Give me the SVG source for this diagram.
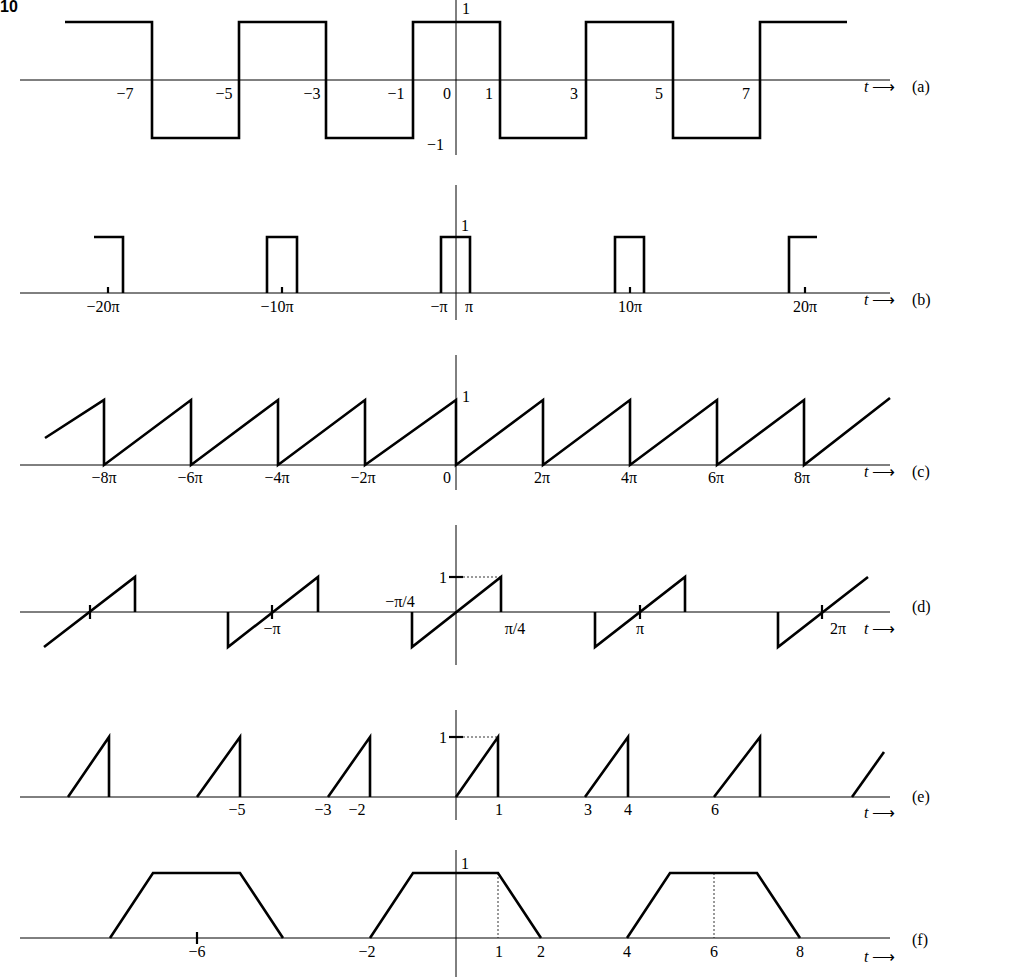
<svg xmlns="http://www.w3.org/2000/svg" width="1024" height="977" viewBox="0 0 1024 977">
<style>
.ax{stroke:#000;stroke-width:1;fill:none}
.w{stroke:#000;stroke-width:2.6;fill:none;stroke-linejoin:miter}
.d{stroke:#000;stroke-width:0.8;stroke-dasharray:2,2;fill:none}
.tk{stroke:#000;stroke-width:2.2}
text{font-family:"Liberation Serif",serif;font-size:16px;fill:#000}
.c{text-anchor:middle}
</style>
<rect width="1024" height="977" fill="#fff"/>
<text x="0" y="12" style="font-family:'Liberation Sans',sans-serif;font-weight:bold;font-size:16px">10</text>
<g id="panel-a">
<line class="ax" x1="20" y1="80" x2="890" y2="80"/><line class="ax" x1="456" y1="0" x2="456" y2="155"/>
<polyline class="w" points="65,22 152,22 152,138 239,138 239,22 326,22 326,138 413,138 413,22 500,22 500,138 586,138 586,22 673,22 673,138 760,138 760,22 847,22"/>
<text x="462" y="14">1</text><text x="427" y="150">−1</text>
<text class="c" x="125" y="99">−7</text><text class="c" x="224" y="99">−5</text><text class="c" x="312" y="99">−3</text><text class="c" x="396" y="99">−1</text><text class="c" x="447" y="99">0</text><text class="c" x="489" y="99">1</text><text class="c" x="574" y="99">3</text><text class="c" x="659" y="99">5</text><text class="c" x="746" y="99">7</text>
<text x="864" y="92" font-style="italic">t</text><text x="872" y="92">⟶</text><text x="912" y="92">(a)</text>
</g>
<g id="panel-b">
<line class="ax" x1="20" y1="293" x2="890" y2="293"/><line class="ax" x1="456" y1="185" x2="456" y2="320"/>
<polyline class="w" points="94,237 123,237 123,293"/>
<polyline class="w" points="267,293 267,237 297,237 297,293"/>
<polyline class="w" points="441,293 441,237 470,237 470,293"/>
<polyline class="w" points="615,293 615,237 644,237 644,293"/>
<polyline class="w" points="789,293 789,237 817,237"/>
<line class="tk" x1="108" y1="287" x2="108" y2="293"/><line class="tk" x1="282" y1="287" x2="282" y2="293"/><line class="tk" x1="630" y1="287" x2="630" y2="293"/><line class="tk" x1="805" y1="287" x2="805" y2="293"/>
<text x="461" y="231">1</text>
<text class="c" x="103" y="312">−20π</text><text class="c" x="277" y="312">−10π</text><text class="c" x="439" y="312">−π</text><text class="c" x="469" y="312">π</text><text class="c" x="630" y="312">10π</text><text class="c" x="805" y="312">20π</text>
<text x="864" y="305" font-style="italic">t</text><text x="872" y="305">⟶</text><text x="912" y="305">(b)</text>
</g>
<g id="panel-c">
<line class="ax" x1="20" y1="465" x2="890" y2="465"/><line class="ax" x1="456" y1="355" x2="456" y2="490"/>
<polyline class="w" points="45,438 104,400 104,465 191,400 191,465 278,400 278,465 365,400 365,465 456,400 456,465 543,400 543,465 630,400 630,465 717,400 717,465 804,400 804,465 890,398"/>
<text x="462" y="402">1</text>
<text class="c" x="104" y="483">−8π</text><text class="c" x="190" y="483">−6π</text><text class="c" x="277" y="483">−4π</text><text class="c" x="363" y="483">−2π</text><text class="c" x="447" y="483">0</text><text class="c" x="542" y="483">2π</text><text class="c" x="629" y="483">4π</text><text class="c" x="716" y="483">6π</text><text class="c" x="802" y="483">8π</text>
<text x="864" y="477" font-style="italic">t</text><text x="872" y="477">⟶</text><text x="912" y="477">(c)</text>
</g>
<g id="panel-d">
<line class="ax" x1="20" y1="612" x2="890" y2="612"/><line class="ax" x1="456" y1="525" x2="456" y2="665"/>
<polyline class="w" points="44,647 135,577 135,612"/>
<polyline class="w" points="228,612 228,647 318,577 318,612"/>
<polyline class="w" points="412,612 412,647 501,577 501,612"/>
<polyline class="w" points="595,612 595,647 685,577 685,612"/>
<polyline class="w" points="778,612 778,647 868,577"/>
<line class="tk" x1="90" y1="605" x2="90" y2="619"/><line class="tk" x1="272" y1="605" x2="272" y2="619"/><line class="tk" x1="640" y1="605" x2="640" y2="619"/><line class="tk" x1="822" y1="605" x2="822" y2="619"/>
<line class="tk" x1="449" y1="577" x2="463" y2="577"/><line class="d" x1="463" y1="577" x2="501" y2="577"/>
<text x="439" y="583">1</text>
<text class="c" x="400" y="607">−π/4</text><text class="c" x="515" y="634">π/4</text><text class="c" x="272" y="634">−π</text><text class="c" x="640" y="634">π</text><text class="c" x="838" y="634">2π</text>
<text x="864" y="634" font-style="italic">t</text><text x="872" y="634">⟶</text><text x="912" y="612">(d)</text>
</g>
<g id="panel-e">
<line class="ax" x1="20" y1="797" x2="890" y2="797"/><line class="ax" x1="456" y1="710" x2="456" y2="820"/>
<polyline class="w" points="68,797 109,737 109,797"/>
<polyline class="w" points="197,797 240,737 240,797"/>
<polyline class="w" points="328,797 370,737 370,797"/>
<polyline class="w" points="456,797 498,737 498,797"/>
<polyline class="w" points="585,797 628,737 628,797"/>
<polyline class="w" points="714,797 760,737 760,797"/>
<polyline class="w" points="852,797 884,752"/>
<line class="tk" x1="449" y1="737" x2="463" y2="737"/><line class="d" x1="463" y1="737" x2="498" y2="737"/>
<text x="439" y="743">1</text>
<text class="c" x="237" y="815">−5</text><text class="c" x="323" y="815">−3</text><text class="c" x="357" y="815">−2</text><text class="c" x="499" y="815">1</text><text class="c" x="588" y="815">3</text><text class="c" x="628" y="815">4</text><text class="c" x="715" y="815">6</text>
<text x="864" y="818" font-style="italic">t</text><text x="872" y="818">⟶</text><text x="912" y="802">(e)</text>
</g>
<g id="panel-f">
<line class="ax" x1="20" y1="938" x2="890" y2="938"/><line class="ax" x1="456" y1="850" x2="456" y2="977"/>
<polyline class="w" points="110,938 153,873 240,873 283,938"/>
<polyline class="w" points="370,938 413,873 498,873 541,938"/>
<polyline class="w" points="627,938 670,873 757,873 800,938"/>
<line class="d" x1="498" y1="873" x2="498" y2="938"/><line class="d" x1="714" y1="873" x2="714" y2="938"/>
<line class="tk" x1="197" y1="932" x2="197" y2="944"/>
<text x="461" y="869">1</text>
<text class="c" x="197" y="957">−6</text><text class="c" x="367" y="957">−2</text><text class="c" x="499" y="957">1</text><text class="c" x="541" y="957">2</text><text class="c" x="627" y="957">4</text><text class="c" x="714" y="957">6</text><text class="c" x="800" y="957">8</text>
<text x="864" y="962" font-style="italic">t</text><text x="872" y="962">⟶</text><text x="912" y="945">(f)</text>
</g>
</svg>
